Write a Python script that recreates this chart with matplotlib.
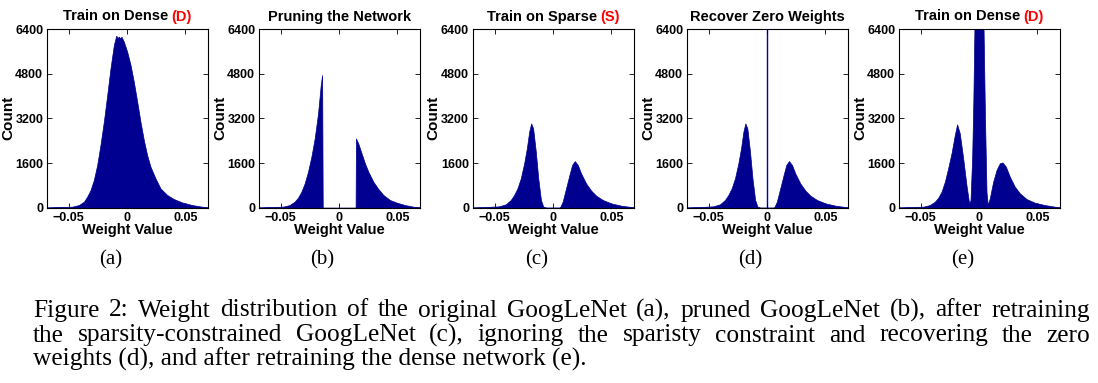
import numpy as np
import matplotlib
matplotlib.use('Agg')
import matplotlib.pyplot as plt

plt.rcParams['font.family'] = ['Liberation Sans', 'DejaVu Sans']
plt.rcParams['font.weight'] = 'bold'
plt.rcParams['axes.unicode_minus'] = True

W, H = 1098, 383
navy = '#000090'

# (a) original dense weights
xa = [-0.0685, -0.0586, -0.0471, -0.0414, -0.0371, -0.0343, -0.0314, -0.0286, -0.0257,
      -0.0229, -0.0200, -0.0171, -0.0143, -0.0114, -0.0094, -0.0082, -0.0071, -0.0060,
      -0.0049, -0.0029, 0.0, 0.0029, 0.0057, 0.0086, 0.0114, 0.0143, 0.0171, 0.0200,
      0.0243, 0.0286, 0.0343, 0.0400, 0.0471, 0.0557, 0.0643, 0.0695]
ya = [10, 24, 36, 95, 215, 394, 633, 990, 1530, 2245, 3080, 4036, 4990, 5830, 6160, 6080,
      6125, 6060, 6125, 5950, 5590, 5110, 4510, 3800, 3080, 2420, 1890, 1470, 1050, 690,
      455, 310, 190, 95, 36, 12]

# (b) pruned
xb = [-0.0695, -0.0586, -0.0483, -0.0425, -0.0382, -0.0353, -0.0324, -0.0296, -0.0267,
      -0.0238, -0.0210, -0.0181, -0.0158, -0.0146, -0.0141, 0.0141, 0.0144, 0.0164,
      0.0192, 0.0221, 0.0250, 0.0293, 0.0336, 0.0379, 0.0436, 0.0494, 0.0565, 0.0637, 0.0695]
yb = [10, 24, 36, 95, 215, 358, 573, 870, 1290, 1830, 2480, 3380, 4390, 4750, 0, 0, 2480,
      2300, 1950, 1590, 1290, 930, 670, 455, 275, 180, 95, 36, 12]

# (c) sparse retrained
xc = [-0.0695, -0.0578, -0.0463, -0.0405, -0.0362, -0.0333, -0.0305, -0.0276, -0.0247,
      -0.0224, -0.0204, -0.0187, -0.0170, -0.0147, -0.0126, -0.0103, -0.0083, -0.0060,
      0.0060, 0.0083, 0.0112, 0.0141, 0.0164, 0.0187, 0.0213, 0.0241, 0.0284, 0.0328,
      0.0371, 0.0428, 0.0500, 0.0586, 0.0695]
yc = [10, 24, 48, 120, 275, 455, 690, 1050, 1590, 2125, 2720, 3020, 2840, 2005, 1050, 275,
      36, 5, 5, 215, 690, 1170, 1530, 1670, 1530, 1230, 870, 610, 430, 275, 155, 72, 12]

# (d) recovered zero weights: same as (c) plus the zero bin
xd = xc
yd = yc
zero_bin_d = [0.0]
zero_count_d = [60000]

# (e) dense retrained
xe = [-0.0695, -0.0580, -0.0480, -0.0423, -0.0380, -0.0351, -0.0323, -0.0294, -0.0266,
      -0.0237, -0.0209, -0.0189, -0.0166, -0.0137, -0.0109, -0.0086, -0.0074, -0.0060,
      -0.0050, -0.0040, -0.0020, 0.0, 0.0020, 0.0037, 0.0050, 0.0063, 0.0074, 0.0091,
      0.0120, 0.0149, 0.0177, 0.0200, 0.0229, 0.0263, 0.0306, 0.0349, 0.0406, 0.0477,
      0.0563, 0.0649, 0.0695]
ye = [10, 24, 36, 95, 215, 358, 573, 930, 1410, 1950, 2600, 2985, 2660, 1770, 810, 155,
      275, 1800, 3800, 6600, 9000, 10000, 9000, 6600, 3200, 573, 95, 335, 930, 1350, 1590,
      1620, 1470, 1110, 750, 515, 310, 180, 95, 36, 12]

titles = [("Train on Dense", "(D)"), ("Pruning the Network", ""), ("Train on Sparse", "(S)"),
          ("Recover Zero Weights", ""), ("Train on Dense", "(D)")]
panel_labels = ["(a)", "(b)", "(c)", "(d)", "(e)"]
xticks = [-0.05, 0, 0.05]
xticklabels = ["\u22120.05", "0", "0.05"]
yticks = [0, 1600, 3200, 4800, 6400]

caption = [
    "Figure 2: Weight distribution of the original GoogLeNet (a), pruned GoogLeNet (b), after retraining",
    "the sparsity-constrained GoogLeNet (c), ignoring the sparisty constraint and recovering the zero",
    "weights (d), and after retraining the dense network (e).",
]

fig = plt.figure(figsize=(W / 100, H / 100), dpi=100)
r = fig.canvas.get_renderer()

lefts = [46.7, 258.7, 472.5, 686.7, 898.7]
aw, top, bot = 161.5, 29.0, 207.7
data = [(xa, ya), (xb, yb), (xc, yc), (xd, yd), (xe, ye)]

for i, (x, y) in enumerate(data):
    ax = fig.add_axes([lefts[i] / W, (H - bot) / H, aw / W, (bot - top) / H])
    ax.fill_between(x, y, color=navy, lw=0.5)
    if i == 3:
        ax.bar(zero_bin_d, zero_count_d, width=0.0007, color='#0000c0',
               edgecolor='#0000c0', lw=0.3)
    ax.set_xlim(-0.069, 0.0695)
    ax.set_ylim(0, 6400)
    ax.set_xticks(xticks, xticklabels)
    ax.set_yticks(yticks)
    ax.tick_params(direction='in', top=True, right=True, length=3.5, width=0.6,
                   labelsize=9, pad=2.5)
    ax.tick_params(axis='x', pad=3.0)
    for s in ax.spines.values():
        s.set_linewidth(0.8)
    ax.set_xlabel("Weight Value", fontsize=10.5, fontweight='bold')
    ax.set_ylabel("Count", fontsize=11, fontweight='bold')
    ax.xaxis.set_label_coords(0.5, -(223.0 - bot) / (bot - top))
    ax.yaxis.set_label_coords(-(46.7 - 15.0) / aw, 0.5)

# titles, with the red part
for i, (a, b) in enumerate(titles):
    xc_px = lefts[i] + aw / 2
    yy = (H - 20.5) / H
    t1 = fig.text(0, yy, a, fontsize=10.5, fontweight='bold', va='baseline')
    w1 = t1.get_window_extent(r).width
    if b:
        t2 = fig.text(0, yy, b, fontsize=10.5, fontweight='bold', va='baseline', color='red')
        w2 = t2.get_window_extent(r).width
        sp = 3.0
        x0 = xc_px - (w1 + sp + w2) / 2
        t1.set_x(x0 / W)
        t2.set_x((x0 + w1 + sp) / W)
    else:
        t1.set_x((xc_px - w1 / 2) / W)

for i, lab in enumerate(panel_labels):
    fig.text((lefts[i] + aw / 2 - 17) / W, (H - 260) / H, lab, fontsize=15,
             family='Liberation Serif', fontweight='normal', ha='center', va='center')

# caption, first two lines justified
cap_kw = dict(fontsize=18.3, family='Liberation Serif', fontweight='normal', va='baseline')
baselines = [316.5, 341.5, 366.0]
x_left, x_right = 33.0, 1090.0
for k, line in enumerate(caption):
    yy = (H - baselines[k]) / H
    if k < 2:
        words = line.split(' ')
        ts = [fig.text(0, yy, w, **cap_kw) for w in words]
        ws = [t.get_window_extent(r).width for t in ts]
        gap = (x_right - x_left - sum(ws)) / (len(ws) - 1)
        x = x_left
        for t, w in zip(ts, ws):
            t.set_x(x / W)
            x += w + gap
    else:
        fig.text(x_left / W, yy, line, **cap_kw)

fig.savefig("out.png", dpi=100)
